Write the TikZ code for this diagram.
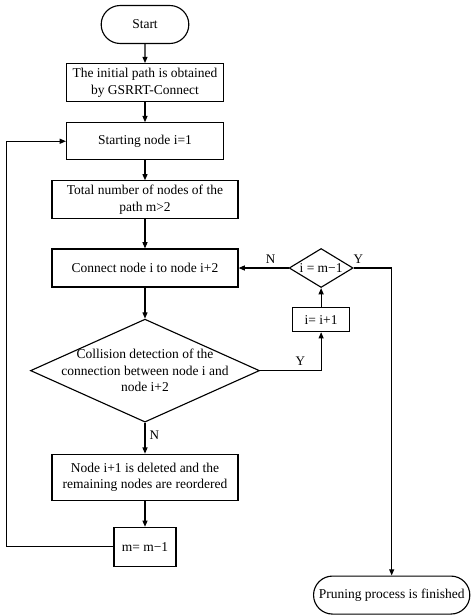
\documentclass[tikz,border=0pt]{standalone}
\usepackage{fontspec}
\setmainfont{Liberation Serif}
\usepackage{tikz}
\usetikzlibrary{positioning,arrows.meta,shapes.geometric,shapes.misc}

\begin{document}
\begin{tikzpicture}[
    node distance=16pt,
    every node/.style={font=\fontsize{10.8}{13.2}\selectfont},
    box/.style={
        rectangle, draw=black, line width=0.9pt,
        minimum width=#1, minimum height=30.4pt,
        align=center, inner sep=2pt
    },
    box/.default={148.8pt},
    term/.style={
        rounded rectangle, draw=black, line width=0.9pt,
        minimum height=30.4pt, align=center
    },
    cond/.style={
        diamond, draw=black, line width=0.9pt,
        inner sep=0pt, aspect=#1
    },
    arrow/.style={-{Triangle[length=5pt,width=4pt]}, line width=0.9pt},
    lbl/.style={font=\fontsize{10.5}{12}\selectfont}
]
\useasboundingbox (-116pt,19.6pt) rectangle (263.2pt,-473.2pt);

% Start
\node[term, minimum width=76.8pt] (start) {Start};

% Initial path
\node[box=125.6pt, below=15.2pt of start] (path)
    {The initial path is obtained\\by GSRRT-Connect};

% First node
\node[box=125.6pt, minimum height=29.6pt, below=16pt of path] (init)
    {Starting node i=1};

% Node count
\node[box, below=16pt of init] (count)
    {Total number of nodes of the\\path m>2};

% Connect step
\node[box, below=23.2pt of count] (link) {Connect node i to node i+2};

% Collision check
\node[cond=2.22, minimum width=183.2pt, minimum height=82.4pt,
    below=24.8pt of link] (collide) {};
\node[align=center] (collidetxt) at (collide)
    {Collision detection of the\\connection between node i and\\node i+2};

% Delete node
\node[box, minimum height=36.8pt, below=24.8pt of collide] (remove)
    {Node i+1 is deleted and the\\remaining nodes are reordered};

% Decrease m
\node[box=49.6pt, minimum height=31.2pt, below=20.8pt of remove] (dec)
    {m= m−1};

% End check
\node[cond=1.64, minimum width=51.2pt, minimum height=31.2pt,
    right=40pt of link] (chk) {};
\node (chktxt) at (chk) {i = m−1};

% Increase i
\node[box=45.6pt, minimum height=19.2pt, below=15.2pt of chk] (inc) {i= i+1};

% Finish
\coordinate[right=30.4pt of chk.east] (yturn);
\node[term, minimum width=122.4pt, below=246pt of yturn] (finish)
    {Pruning process is finished};

% Main column
\draw[arrow] (start) -- (path);
\draw[arrow] (path) -- (init);
\draw[arrow] (init) -- (count);
\draw[arrow] (count) -- (link);
\draw[arrow] (link) -- (collide);
\draw[arrow] (collide) -- node[right, lbl, pos=0.39] {N} (remove);
\draw[arrow] (remove) -- (dec);

% Loop back
\draw[arrow] (dec.west) -- ++(-85.6pt,0) |- (init.west);

% Right branch
\draw[arrow] (collide.east) -| node[above, lbl, pos=0.33] {Y} (inc.south);
\draw[arrow] (inc) -- (chk);
\draw[arrow] (chk.west) -- node[above, lbl, pos=0.36] {N} (link.east);
\draw[arrow] (chk.east) -| node[above, lbl, pos=0.06] {Y} (finish.north);

\end{tikzpicture}
\end{document}
